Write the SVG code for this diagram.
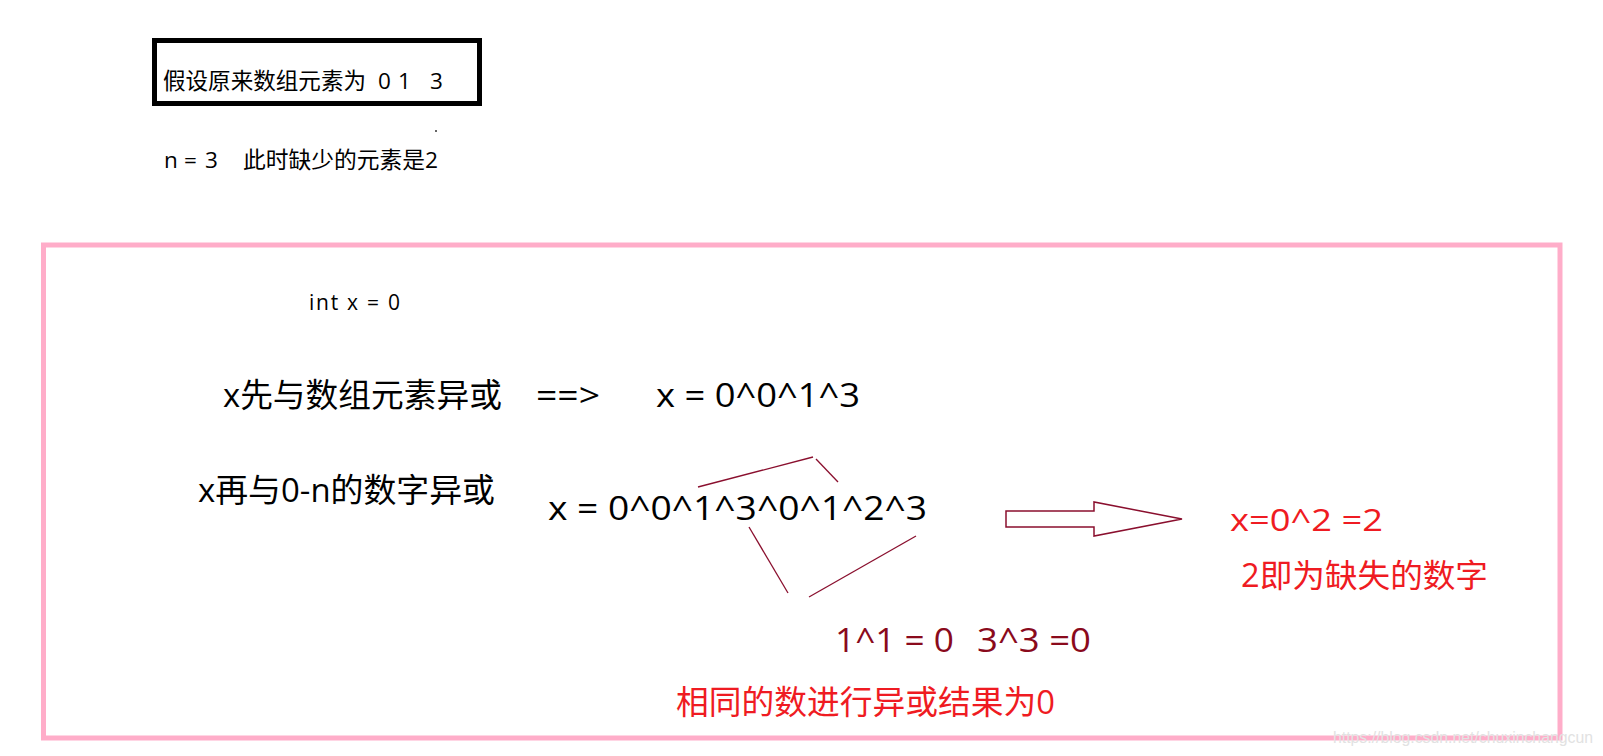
<svg xmlns="http://www.w3.org/2000/svg" width="1603" height="756" viewBox="0 0 1603 756">
<style>
.t{font-family:"Open Sans","Noto Sans CJK SC",sans-serif;fill:#000}
.s{font-size:22.5px}
.m{font-size:21px}
.l{font-size:32.5px}
.red{fill:#ef1b22}
.dred{fill:#8a0a1c}
.ln{stroke:#8a0f2e;stroke-width:1.3;fill:none}
.wm{font-family:"Liberation Sans",sans-serif;font-size:16px;fill:#e2e2e2}
</style>
<rect width="1603" height="756" fill="#fff"/>
<g id="intro-box">
<rect x="154.5" y="40.5" width="325" height="63" fill="none" stroke="#000" stroke-width="5"/>
<text class="t s" y="89"><tspan x="163" textLength="203" lengthAdjust="spacingAndGlyphs">假设原来数组元素为</tspan><tspan x="378">0</tspan><tspan x="398">1</tspan><tspan x="430">3</tspan></text>
</g>
<rect x="435" y="130" width="2" height="2" fill="#666"/>
<g id="intro-n">
<text class="t s" y="168"><tspan x="164">n</tspan><tspan x="184">=</tspan><tspan x="205">3</tspan><tspan x="243" textLength="195" lengthAdjust="spacingAndGlyphs">此时缺少的元素是2</tspan></text>
</g>
<g id="frame">
<rect x="43.5" y="245" width="1516.5" height="493" fill="none" stroke="#ffadc9" stroke-width="5"/>
</g>
<g id="init">
<text class="t m" x="309" y="310" textLength="91" lengthAdjust="spacing">int x = 0</text>
</g>
<g id="step1">
<text class="t l" x="223" y="407" textLength="279" lengthAdjust="spacingAndGlyphs">x先与数组元素异或</text>
<text class="t l" x="536" y="407" textLength="64" lengthAdjust="spacingAndGlyphs">==&gt;</text>
<text class="t l" x="656" y="407" textLength="204" lengthAdjust="spacingAndGlyphs">x = 0^0^1^3</text>
</g>
<g id="step2">
<text class="t l" x="198" y="502" textLength="297" lengthAdjust="spacingAndGlyphs">x再与0-n的数字异或</text>
</g>
<g id="expr">
<text class="t l" x="548" y="520" textLength="379" lengthAdjust="spacingAndGlyphs">x = 0^0^1^3^0^1^2^3</text>
</g>
<g id="result">
<text class="t red" style="font-size:31px" x="1230" y="531" textLength="153" lengthAdjust="spacingAndGlyphs">x=0^2 =2</text>
<text class="t red" style="font-size:32px" x="1241" y="587" textLength="247" lengthAdjust="spacingAndGlyphs">2即为缺失的数字</text>
</g>
<g id="pairs">
<text class="t dred" style="font-size:33px" y="652"><tspan x="835" textLength="119" lengthAdjust="spacingAndGlyphs">1^1 = 0</tspan><tspan x="977" textLength="114" lengthAdjust="spacingAndGlyphs">3^3 =0</tspan></text>
</g>
<g id="note">
<text class="t red" style="font-size:33px" x="676" y="714" textLength="379" lengthAdjust="spacingAndGlyphs">相同的数进行异或结果为0</text>
</g>
<g id="connectors">
<polyline class="ln" points="698,487 813,457"/>
<polyline class="ln" points="816,459 838,482"/>
<polyline class="ln" points="749,527 788,593"/>
<polyline class="ln" points="809,597 916,536"/>
<polygon points="1006,511 1094,511 1094,502 1182,519 1094,536 1094,527 1006,527" fill="#fff" stroke="#8a0f2e" stroke-width="1.5"/>
</g>
<text class="wm" x="1333" y="743" textLength="260" lengthAdjust="spacingAndGlyphs">https://blog.csdn.net/chuxinchangcun</text>
</svg>
